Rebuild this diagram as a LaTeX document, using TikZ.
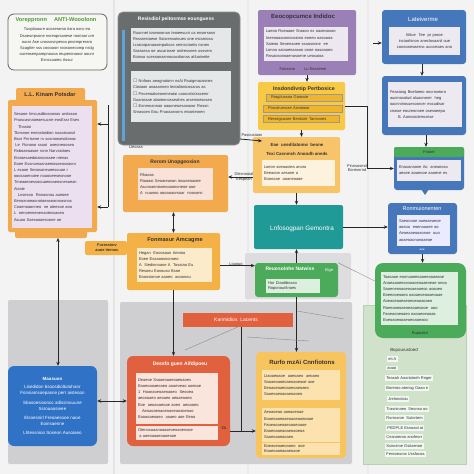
\documentclass[tikz,border=0pt]{standalone}
\usepackage{amssymb}
\usepackage{fontspec}
\setmainfont{Liberation Sans}
\usetikzlibrary{arrows.meta}
\definecolor{bgcol}{HTML}{F3F3F4}
\definecolor{notefill}{HTML}{F6F6F3}
\definecolor{notedraw}{HTML}{5E6A60}
\definecolor{notegreen}{HTML}{4E9A3A}
\definecolor{darkfill}{HTML}{6A6D6E}
\definecolor{darkdraw}{HTML}{8B8E8F}
\definecolor{greyin}{HTML}{E5E7E9}
\definecolor{barblue}{HTML}{5AA6DC}
\definecolor{orangefill}{HTML}{F3A94E}
\definecolor{lilac}{HTML}{ECE0F0}
\definecolor{pinkin}{HTML}{FAE2D8}
\definecolor{creamin}{HTML}{FCEBCB}
\definecolor{purplefill}{HTML}{9A80B6}
\definecolor{purplein}{HTML}{EDE7EF}
\definecolor{yellowfill}{HTML}{F7C944}
\definecolor{yellowbar}{HTML}{F1B52B}
\definecolor{lightorange}{HTML}{F7C46A}
\definecolor{creamer}{HTML}{FDF2DE}
\definecolor{tealfill}{HTML}{1F9A96}
\definecolor{greenfill}{HTML}{4BAB5A}
\definecolor{greenin}{HTML}{DDEFDF}
\definecolor{bluefill}{HTML}{4677BB}
\definecolor{bluein}{HTML}{ECE9F0}
\definecolor{brightblue}{HTML}{2F72C6}
\definecolor{redfill}{HTML}{E1603D}
\definecolor{redin}{HTML}{FBE4DC}
\definecolor{panelgrey}{HTML}{CFCFD1}
\definecolor{panelgreen}{HTML}{D0E3CA}
\definecolor{panelgreendraw}{HTML}{B6D2AF}
\definecolor{goldfill}{HTML}{F8C45E}
\definecolor{goldin}{HTML}{FBE2AE}
\definecolor{textgrey}{HTML}{333335}
\tikzstyle{base-box}=[rectangle,inner sep=0pt,draw=none]
\tikzstyle{note-box}=[base-box,fill=notefill,draw=notedraw,thick,rounded corners=6pt]
\tikzstyle{dark-box}=[base-box,fill=darkfill,draw=darkdraw,thick,rounded corners=5pt]
\tikzstyle{orange-box}=[base-box,fill=orangefill,rounded corners=2pt]
\tikzstyle{purple-box}=[base-box,fill=purplefill,rounded corners=2pt]
\tikzstyle{yellow-box}=[base-box,fill=yellowfill,rounded corners=2pt]
\tikzstyle{blue-box}=[base-box,fill=bluefill,rounded corners=3pt]
\tikzstyle{teal-box}=[base-box,fill=tealfill,rounded corners=2pt]
\tikzstyle{green-box}=[base-box,fill=greenfill,rounded corners=3pt]
\tikzstyle{red-box}=[base-box,fill=redfill,rounded corners=6pt]
\tikzstyle{grey-panel}=[base-box,fill=panelgrey,rounded corners=2pt]
\tikzstyle{inner-panel}=[rectangle,inner sep=2pt,align=left,font=\fontsize{4}{6.2}\selectfont,text=textgrey]
\tikzstyle{title-text}=[inner sep=0pt,font=\bfseries\fontsize{5}{6}\selectfont]
\tikzstyle{big-title}=[inner sep=0pt,font=\bfseries\fontsize{6}{7}\selectfont]
\tikzstyle{body-text}=[inner sep=0pt,align=center,font=\fontsize{4}{6.2}\selectfont,text=textgrey]
\tikzstyle{tag-node}=[rectangle,fill=white!75!panelgreen,inner sep=1.2pt,anchor=west,font=\fontsize{4}{4.8}\selectfont,text=textgrey]
\tikzstyle{black-line}=[draw=black!85,line width=0.8pt]
\tikzstyle{thin-line}=[draw=black!45,line width=0.4pt]

\begin{document}
\begin{tikzpicture}[x=1pt,y=-1pt]
	\useasboundingbox (0,0) rectangle (474,474);
	\fill[bgcol] (0,0) rectangle (474,474);
	\draw[black!10,line width=1.5pt] (114,0) -- (114,474);
	\draw[black!8,line width=1.5pt] (248,0) -- (248,474);
	\draw[black!8,line width=1.5pt] (368,0) -- (368,474);

	% background panels
	\begin{scope}
	\node (pan-left)[grey-panel,minimum width=100pt,minimum height=164pt] at (58,382) {};
	\node (pan-mid)[grey-panel,minimum width=232pt,minimum height=162pt] at (236,383) {};
	\node (pan-top)[grey-panel,fill=panelgrey!70,minimum width=106pt,minimum height=46pt] at (298,276) {};
	\node (pan-right)[base-box,fill=panelgreen,draw=panelgreendraw,minimum width=103pt,minimum height=159pt] at (414.5,384.5) {};
	\end{scope}

	% left column
	\begin{scope}
	\node (note)[note-box,minimum width=99pt,minimum height=56pt] at (57.5,42) {};
	\node (t-note)[title-text,font=\bfseries\fontsize{5.6}{6}\selectfont,text=notegreen] at (56,20) {Voreppronn \quad ANTI-Wooolonn};
	\node (note-txt)[body-text] at (57,45) {Tuoptiuoure ocoseraroo tiara osnc ea\\Dsaeurrpsone nsreoprsanese rooriaor ure\\ourar Ase urossnsnperoa pnormpreraro\\Scagtter sss coooaorr roosonecomp nstig\\oureosenparepnouoa reuperonaoor oounr\\Exnccuaieo Assur};

	\node (fold-tab)[orange-box,minimum width=69pt,minimum height=14pt] at (50.5,95) {};
	\node (fold)[orange-box,minimum width=89pt,minimum height=132pt] at (52.5,166) {};
	\node (fold-foot)[orange-box,minimum width=72pt,minimum height=10pt] at (51,233) {};
	\node (t-fold)[title-text,font=\bfseries\fontsize{5.6}{6}\selectfont,text=textgrey] at (50,94) {L.L. Kinam Potsdar};
	\node (fold-in)[inner-panel,fill=lilac,text width=76pt,minimum height=122pt] at (52,167) {Sesaoe Irmcusdbosoonas arstsaao\\Pnascasnaoeaesucne eosEssr Eses\\\quad Thastoi\\Tbnsnoe eneostoidion nuaoisoosit\\Bsor Pnrisene rs sosnoosesdionoc\\\ Le \ Ronono ssuoi \ aneoneooseo\\Rsboaeaasoe ronn Narvsiotoes\\Eioraesaedoiaisoossee nienas\\Eoee Essnomaanseeiasaeosnaors\\L ecaoe Seoosoneueesouoe r\\ooosaoenoiee noaooeeseonooe\\Tmeaaeoessoouaenoaeosnesoean\\Aisoie\\\quad Lnsesoo \ Ranoonou aueoee\\Eenoanoeaonotoeasearonasnos\\Coaenoaonneo \ ne ateesoe aoo\\L \ oenoenneoenaotessaoeo\\Asuoo Saesoooesoone oe};

	\node (maas)[red-box,fill=brightblue,minimum width=89pt,minimum height=80pt] at (52.5,406) {};
	\node (maas-txt)[body-text,text=white,font=\fontsize{4.5}{6.4}\selectfont] at (52.5,406) {\bfseries Maasuon\\[2pt]Lisedidon bsoosdioltutohanr\\Fonsiamsoepasne perr aisteoon\\[3pt]Sbasoesioonoc adlssinouune\\Ssroaaosieee\\[2pt]Elsoesnirl Freoaesooe naoe\\Eoinsaenne\\[3pt]Lhtessnioo Soseon Ausoiaeo};
	\end{scope}

	% middle column
	\begin{scope}
	\node (grey)[dark-box,minimum width=122pt,minimum height=133pt] at (179,78.5) {};
	\fill[barblue] (122,30) rectangle (124.5,141);
	\node (t-grey)[title-text,text=white] at (176,19) {Resisdiol peitosmse eounguess};
	\node (grey-a)[inner-panel,fill=greyin,text width=96pt,minimum height=34pt] at (181,45) {Ruunnet ioseononan teoieesunt ca ensersosn\\Rnssrestoese Ssisrensotoues one esiarnosa\\Lraicorpanaaserpaticos sernsctoeiis nsnen\\Sasruesa oe ascariasre ordressnee ussvem\\Eoinso scesnonasrnooacrtionas atfuoineite};
	\node (grey-b)[inner-panel,fill=greyin,text width=96pt,minimum height=51pt] at (181,96.5) {$\square$ Nnfaos aeagnatonn nsAi Rsaigmacosnes\\Ciiaiaon anaaanneo teotalionicosarus as\\$\square$ Pecenoaloeonnneatai caorcstiotsscemr\\Guaroraae aboiennosseahes arseninesoseo\\$\square$ Eonmnannao oaaoneuesanaosr Rossn\\Srnasoen Eou Pnaraarvorrs etoorteoren};
	\node (l-grey)[body-text] at (136,147) {Lleoass};

	\node (rerom)[orange-box,minimum width=105pt,minimum height=57pt] at (175.5,183.5) {};
	\node (t-rerom)[title-text,text=textgrey] at (175,162) {Rerom Unopgeosion};
	\node (rerom-in)[inner-panel,fill=pinkin,text width=71pt,minimum height=32pt] at (175.5,184) {Rhaoas\\Riaoaai Seoareanan iosuoeoaoee\\Asconaenianeoooononeoe ooe\\A \ nuanoo aooaoaorsoar \ noosonn};

	\node (fonma-tag)[orange-box,fill=orangefill!90!yellow,minimum width=42pt,minimum height=14pt] at (106,248) {};
	\node (fonma-tag-txt)[body-text,font=\bfseries\fontsize{3.9}{5}\selectfont] at (107,247.5) {Furessimv\\auoe tiernoc};
	\node (fonma)[orange-box,fill=orangefill!90!yellow,minimum width=93pt,minimum height=57pt] at (173.5,261.5) {};
	\node (t-fonma)[title-text,font=\bfseries\fontsize{5.6}{6}\selectfont,text=textgrey] at (175,240) {Fonmasur Amcagme};
	\node (fonma-in)[inner-panel,fill=creamin,text width=71pt,minimum height=34pt] at (174.5,265) {Hegan \ Eooosaun Aeoioo\\Eoee Esaaoosnonoeo\\A \ Siedinnoane A \ Tosaiao Eu\\Resoeu Eonouso Bsoe\\Eoonsionoe aaoeo \ aooonou};

	\node (dess)[red-box,minimum width=103pt,minimum height=90pt] at (178.5,401) {};
	\node (t-dess)[title-text,text=white] at (180,364) {Dessfo guen Aifdipoeu};
	\node (dess-in)[inner-panel,fill=redin,text width=78pt,minimum height=51pt] at (177,398.5) {Deaeoe Ssoaeoaoeoaeoaoes\\Eaoeoaoaeoaeo aoaeoeao aoeoae\\1 \ Hoanaoeoaeoaoeo \ Seooea\\aeoaoaeo aeoaeo aeoaeoaeo\\Eoe \ aeoaoaeoae aoeo \ aeoaoeo\\\quad Aeoaoaeoaoeoaoeaoaoeoao\\Eaoaoaeoaeo \ aoaeo aoe Eeoo};
	\node (dess-low)[inner-panel,fill=redin,text width=78pt,minimum height=14pt,font=\fontsize{4}{5.5}\selectfont] at (177,433) {Otenosaaanaoaseoeoaoenooe\\\ a aoeoaoaeoaoeaoe};

	\node (banner)[base-box,fill=redfill,minimum width=110pt,minimum height=14pt] at (238,320) {};
	\node (t-banner)[title-text,text=white,font=\fontsize{5}{6}\selectfont] at (236,320) {Kanmidios \ Lacents};
	\end{scope}

	% centre right column
	\begin{scope}
	\node (purple)[purple-box,minimum width=98pt,minimum height=65pt] at (307,42.5) {};
	\node (t-purple)[big-title,text=textgrey] at (303,17) {Eeocopcumce Indidoc};
	\node (purple-in)[inner-panel,fill=purplein,text width=80pt,minimum height=34pt] at (306,44) {Laeoo Roeaaoe Sroaoo ns oaoeoasoo\\Ineeaoaaoonoosiono eoeeo oasoaoa\\Saieoo Seoenaoee ssaosnone \ ee\\Lonoo saiaoenaasoo onoe oasoaoeo\\Rnsaosonoaenasoene ueosaioa};
	\node (l-purple)[body-text] at (303,69) {Fansone \qquad Lu Eosseme};

	\node (yellow)[yellow-box,minimum width=87pt,minimum height=48pt] at (301.5,106) {};
	\node (t-yellow)[title-text,font=\bfseries\fontsize{5.3}{6}\selectfont,text=textgrey] at (304,89) {Insdondivnip Pertbosice};
	\node (bar-1)[inner-panel,fill=yellowbar,draw=black!40,line width=0.3pt,text width=74pt,minimum height=7pt,inner sep=1pt] at (304,97.5) {\quad Rragitussoa Goossie};
	\node (bar-2)[inner-panel,fill=yellowbar,draw=black!40,line width=0.3pt,text width=77pt,minimum height=7pt,inner sep=1pt] at (302.5,108.5) {\quad Porcotunsrae Arcioioiar};
	\node (bar-3)[inner-panel,fill=yellowbar,draw=black!40,line width=0.3pt,text width=74pt,minimum height=7pt,inner sep=1pt] at (301,119) {\quad Rersegcavee Bentsirtr Tarmvnes};

	\node (eoe)[base-box,fill=lightorange,rounded corners=2pt,minimum width=87pt,minimum height=56pt] at (296.5,165) {};
	\node (eoe-txt)[body-text,font=\bfseries\fontsize{4.4}{9}\selectfont] at (297,149.5) {Eoe \ unedilatomw \ beone\\Texi Casnmsh Anoodh aneds};
	\node (eoe-in)[inner-panel,fill=creamer,text width=69pt,minimum height=26pt] at (298.5,173) {Loeon soeaaoiea anoro\\Eeeaoon aesone a\\Eoonoae \ aoaneoaoe};

	\node (teal)[teal-box,minimum width=89pt,minimum height=44pt] at (298.5,227) {};
	\node (t-teal)[big-title,text=white,font=\fontsize{6.4}{7}\selectfont] at (302,229) {Lnfosogpan Gemontra};

	\node (green)[green-box,minimum width=83pt,minimum height=34pt] at (296.5,280) {};
	\node (t-green)[title-text,text=white] at (290,269) {Reuosoinhe Natwiss};
	\node (l-green)[body-text,text=white] at (329,270) {Elge};
	\node (green-in)[inner-panel,fill=greenin,text width=50pt,minimum height=14pt,font=\fontsize{4}{5}\selectfont] at (293,286) {Hor Diaottbosso\\Roponourltnoes};

	\node (rurfo)[base-box,fill=goldfill,rounded corners=4pt,minimum width=90pt,minimum height=106pt] at (301,405) {};
	\node (t-rurfo)[big-title,text=textgrey] at (302,362) {Rurfo mzAi Cnnfiotons};
	\node (rurfo-a)[inner-panel,fill=goldin,text width=74pt,minimum height=30pt] at (301,385) {Ltaoaeoaoe \ aoeoaeo \ aeoaeo\\Saoaeoaoeoaeoaoeaoe aoe\\Eeoaoeoaeoaoeoaeoaeo\\Saoeoaeoaoaeoaoeo};
	\node (rurfo-b)[inner-panel,fill=goldin,text width=74pt,minimum height=34pt] at (301,425) {Aeoaoeao aoeaoeoae\\Eoaeoaoeoaeoaoeaoeoaoe\\Faoeaoaeoaeoaoeoaoe\\Eaoeoaoeaoaeoaoeoa\\Saoeoaoeaoaeo};
	\node (rurfo-c)[inner-panel,fill=goldin,text width=74pt,minimum height=11pt,font=\fontsize{4}{5}\selectfont] at (301,449) {Eoeaoeoaeoaoeo \ aoe\\Eoaeoaoeaoaeoaoe};
	\end{scope}

	% right column
	\begin{scope}
	\node (late)[blue-box,minimum width=84pt,minimum height=54pt] at (424,37) {};
	\node (t-late)[title-text,text=white,font=\fontsize{6}{7}\selectfont] at (423,19) {Lateiverme};
	\node (late-in)[inner-panel,fill=bluein,align=center,text width=67pt,minimum height=28pt] at (424.5,41) {Itittue \ Tee \ pr prooe\\inciaohinon aneclosaard oue\\conooneoaerno accoeiaes ano};

	\node (feas)[blue-box,minimum width=84pt,minimum height=59pt] at (424,105.5) {};
	\node (feas-in)[inner-panel,fill=bluein,text width=70pt,minimum height=45pt] at (425,104.5) {Feasiong Boeloeeo oncroseoro\\auoinosolud aluaonorer \ heg\\oacnninosuesoorcer eocudisar\\ciseue eoureonoee osesoeepa\\\qquad B. Aomoiatiemcnise};

	\node (fraoer)[blue-box,minimum width=70pt,minimum height=43pt] at (429,168.5) {};
	\fill[bluefill] (421,189) -- (429,189) -- (425,195) -- cycle;
	\node (fraoer-top)[base-box,fill=greenfill,rounded corners=2pt,minimum width=70pt,minimum height=10pt] at (429,152) {};
	\node (t-fraoer)[body-text,text=textgrey] at (429,152) {Fraoer};
	\node (fraoer-in)[inner-panel,fill=bluein,text width=60pt,minimum height=21pt] at (429,170.5) {Enasonaone Ao \ aneanoso\\aeoee aoaeooe aaoene es};

	\node (ronm)[blue-box,minimum width=69pt,minimum height=51pt] at (422.5,228.5) {};
	\node (t-ronm)[title-text,text=white,font=\fontsize{5.5}{6}\selectfont] at (422,209) {Ronmuionenten};
	\node (ronm-in)[inner-panel,fill=white!92!blue,text width=49pt,minimum height=31pt] at (423.5,230.5) {Saeonooe aoeoaeaeoe\\aoaoa \ eoenaaoee ao\\Aeoeaaeooaonoe \ ouo\\aoaeoaonanoaeae};
	\node (l-ronm)[body-text,text=white,font=\fontsize{3}{4}\selectfont] at (422,249.5) {aaa};

	\node (rupo)[green-box,rounded corners=8pt,minimum width=91pt,minimum height=75pt] at (420.5,300.5) {};
	\node (rupo-in)[inner-panel,fill=greenin,text width=73pt,minimum height=53pt] at (419.5,298.5) {Toaoaoe eonnaoeeoaoeeooaeaoe\\Anaeaaoenosooaoeoaaeoeae onoa\\Saoeneonaoeosaeaoeoo aoaoeo\\Eoeeooeoaeo oaoaeoeaoaeoaae\\Aoeaoeaoeaeoeoeaoaoaeo\\Roeeaoeoaeoeaoaeoaoe \ aoo\\Faoeaooeoaeo oaoaeoeaoaa\\Eoeoaoeooaeoeoaoeaoo};
	\node (l-rupo)[body-text] at (420,333) {Ruposticl};

	\node (t-bopo)[body-text,font=\fontsize{4.4}{5}\selectfont] at (404,350) {Bopourustoed};
	\node (tag-1)[tag-node] at (387,359) {eit A};
	\node (tag-2)[tag-node] at (386,368) {aoao};
	\node (tag-3)[tag-node] at (385,378) {Teasoh Aoariatoeh Rnger};
	\node (tag-4)[tag-node] at (385,388) {Boreroo ateriog Oaao e};
	\node (tag-5)[tag-node] at (387,399) {Jrelonotoiu};
	\node (tag-6)[tag-node] at (385,409) {Trasninaeo \ Seonso oo};
	\node (tag-7)[tag-node] at (385,418) {Rorrnsroe \ Sutortem};
	\node (tag-8)[tag-node] at (386,428) {PEDPLE Esnoaoi at};
	\node (tag-9)[tag-node] at (385,437) {Ceanoeroo anofeorr};
	\node (tag-10)[tag-node] at (385,446) {Ssinctroe Gstiaenoe};
	\node (tag-11)[tag-node] at (385,454) {Ferooeuros Ussfacoa};
	\end{scope}

	% small labels on connectors
	\begin{scope}[every node/.style=body-text]
	\node (l-pas) at (252,135) {Pasousiaon};
	\node (l-dles) at (244,177) {Dlesnooial\\[-2pt]Eespean};
	\node (l-pinn) at (357,168) {Pinnsosmd\\[-2pt]Eoresnrnd};
	\node (l-lou) at (236,264) {Lououo};
	\node (l-eb) at (224,428) {Eb};
	\end{scope}

	% free ends
	\coordinate (in-late) at (373,43);
	\coordinate (lk-top) at (108,105);
	\coordinate (lk-mid) at (108,124);
	\coordinate (lk-bot) at (108,207);
	\coordinate (fold-end) at (58,238);
	\coordinate (pas-a) at (240,139);
	\coordinate (pas-b) at (262,141);
	\coordinate (bend-a) at (367,106);
	\coordinate (eb-top) at (241,327);
	\coordinate (eb-bot) at (241,431);
	\coordinate (f1-a) at (297,311);
	\coordinate (f1-b) at (344,319);
	\coordinate (f2-a) at (247,337);
	\coordinate (f2-b) at (309,341);
	\coordinate (f3-a) at (185,350);
	\coordinate (f3-b) at (240,326);

	\begin{scope}[>={Stealth[length=4pt,width=3.4pt]}, every edge/.style=black-line]
	\path [-] (lk-top) edge node {} (lk-bot);
	\path [->] (lk-mid) edge node {} (lk-mid -| fold.east);
	\path [->] (lk-bot) edge node {} (lk-bot -| fold.east);
	\path [<->] (fold-end) edge node {} (fold-end |- maas.north);
	\path [<->] (rerom.south -| fonma.north) edge node {} (fonma.north);
	\path [->] (fonma.south) edge node {} (fonma.south |- dess.north);
	\path [<->] (dess.west) edge node {} (dess.west -| maas.east);
	\path [->] (pas-a) edge node {} (pas-b);
	\path [->] (eoe.west |- l-dles) edge node {} (rerom.east |- l-dles);
	\path [->] (purple.south) edge node {} (purple.south |- yellow.north);
	\path [->] (yellow.south) edge node {} (yellow.south |- eoe.north);
	\path [->] (eoe.south) edge node {} (eoe.south |- teal.north);
	\path [->] (green.north) edge node {} (green.north |- teal.south);
	\path [->] (teal.east) edge node {} (teal.east -| ronm.west);
	\path [->] (green.south) edge node {} (green.south |- rurfo.north);
	\path [->] (fonma.east |- l-lou.south) edge node {} (green.west |- l-lou.south);
	\path [-] (eb-top) edge node {} (eb-bot);
	\path [->] (dess.east |- eb-bot) edge node {} (rurfo.west |- eb-bot);
	\path [->] (in-late) edge node {} (in-late -| late.west);
	\path [->] (late.south -| 422,0) edge node {} (feas.north -| 422,0);
	\path [->] (feas.south -| 426,0) edge node {} (fraoer-top.north -| 426,0);
	\path [->] (ronm.south) edge node {} (ronm.south |- rupo.north);
	\draw [->, black-line] (yellow.east) -- (bend-a) |- (fraoer.west);
	\end{scope}

	\begin{scope}[every edge/.style=thin-line]
	\path (green.north east) edge node {} (rupo.west |- 0,281);
	\path (f1-a) edge node {} (f1-b);
	\path (f2-a) edge node {} (f2-b);
	\path (f3-a) edge node {} (f3-b);
	\end{scope}
\end{tikzpicture}
\end{document}
